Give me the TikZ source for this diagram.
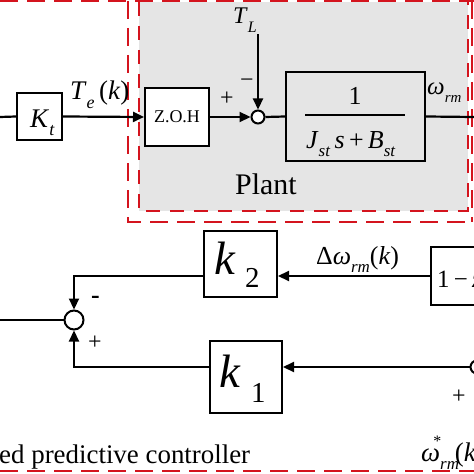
\documentclass[tikz,border=0pt]{standalone}
\usepackage{fontspec}
\setmainfont{Liberation Serif}
\usetikzlibrary{arrows.meta}
\newcommand{\fs}[1]{\fontsize{#1}{#1}\selectfont}
\definecolor{dashred}{RGB}{212,20,30}
\tikzset{
  sig/.style={line width=2.2bp, -{Triangle[length=11bp,width=10bp]}},
  wire/.style={line width=2.2bp},
  blk/.style={draw, line width=2bp, fill=white, inner sep=0pt},
  summ/.style={draw, circle, line width=2bp, fill=white, inner sep=0pt},
  lbl/.style={inner sep=0pt, anchor=base west},
  outerdash/.style={draw=dashred, line width=2.2bp, dash pattern=on 18bp off 9bp},
  innerdash/.style={draw=dashred, line width=1.8bp, dash pattern=on 14bp off 10bp},
}
\begin{document}
\begin{tikzpicture}[x=1bp,y=-1bp]
\useasboundingbox (0,0) rectangle (474,474);
% plant area
\fill[gray!20] (139,2) rectangle (468,211);
\draw[innerdash] (139,2) -- (139,211) -- (468,211) -- (468,2);
\draw[outerdash] (0,1) -- (474,1);
\draw[outerdash] (128,1) -- (128,222) -- (474,222);
\draw[outerdash] (472,1) -- (472,222);
\draw[outerdash] (0,471) -- (474,471);

% upper row
\coordinate (in0) at (0,117);
\node[blk, minimum width=45bp, minimum height=47bp] (kt) at (39.5,116.5) {};
\node[lbl] at (30,128) {\fs{27}\textit{K}\raisebox{-0.28em}{\fs{18}\textit{t}}};
\node[blk, minimum width=64bp, minimum height=58bp] (zoh) at (177,117) {\fs{18}Z.O.H};
\node[summ, minimum size=13bp] (s1) at (258,117) {};
\node[draw, line width=2bp, fill=gray!20, minimum width=139bp, minimum height=89bp, inner sep=0pt] (plant) at (355.5,116.5) {};
\coordinate (out0) at (474,117);
\node[inner sep=0pt] (tl) at (245,20) {\fs{24}\textit{T}\raisebox{-0.35em}{\fs{16}\textit{L}}};

\draw[wire] (in0) -- (kt.west);
\draw[sig] (kt.east) -- (zoh.west);
\draw[sig] (zoh.east) -- (s1.west);
\draw[sig] (tl.south -| s1.north) ++(0,2) -- (s1.north);
\draw[wire] (s1.east) -- (plant.west);
\draw[wire] (plant.east) -- (out0);

\node[lbl] at (70,100) {\fs{27}\textit{T}\raisebox{-0.3em}{\fs{18}\textit{e}}\,(\textit{k})};
\node[lbl] at (220,106) {\fs{24}+};
\node[lbl] at (240,88) {\fs{24}−};
\node[lbl] at (427,95) {\fs{25}\textit{ω}\raisebox{-0.32em}{\fs{15}\textit{rm}}};
% fraction
\node[inner sep=0pt] (num) at (355,96) {\fs{26}1};
\draw[line width=1.3bp] (305,115) -- (405,115);
\node[lbl] (den) at (306,149) {\fs{26}\textit{J}\raisebox{-0.3em}{\fs{17}\textit{st}}\,\textit{s}\,+\,\textit{B}\raisebox{-0.3em}{\fs{17}\textit{st}}};
\node[lbl] at (235,195) {\fs{30}Plant};

% lower part
\node[blk, minimum width=73bp, minimum height=66bp] (k2) at (240.5,264) {};
\node[lbl] at (214,274) {\fs{47}\textit{k}};
\node[lbl] at (245,287) {\fs{29}2};
\node[blk, minimum width=72bp, minimum height=72bp] (k1) at (246,377) {};
\node[lbl] at (219,387) {\fs{47}\textit{k}};
\node[lbl] at (251,402) {\fs{29}1};
\node[blk, minimum width=70bp, minimum height=58bp, anchor=west] (onez) at (430,276) {};
\node[lbl] at (437,287) {\fs{25}1\,−\,\textit{z}\raisebox{0.5em}{\fs{15}−1}};
\node[summ, minimum size=13bp] (sr) at (477,367) {};
\node[summ, minimum size=19bp] (sl) at (74,320) {};
\coordinate (in1) at (0,320);

\draw[sig] (onez.west) -- (onez.west -| k2.east);
\draw[sig] (k2.west |- onez.west) -| (sl.north);
\draw[sig] (sr.west) -- (sr.west -| k1.east);
\draw[sig] (k1.west |- sr.west) -| (sl.south);
\draw[wire] (in1) -- (sl.west);

\node[lbl] at (316,264) {\fs{26}Δ\textit{ω}\raisebox{-0.32em}{\fs{17}\textit{rm}}(\textit{k})};
\node[lbl] at (91,303) {\fs{26}\textbf{-}};
\node[lbl] at (88,349) {\fs{24}+};
\node[lbl] at (452,403) {\fs{24}+};
\node[lbl] at (421,461) {\fs{27}\textit{ω}\raisebox{-0.3em}{\fs{17}\textit{rm}}\hspace{-0.95em}\raisebox{0.55em}{\fs{16}*}\hspace{0.5em}(\textit{k})};
\node[lbl] at (-1,463) {\fs{27}ed predictive controller};
\end{tikzpicture}
\end{document}
